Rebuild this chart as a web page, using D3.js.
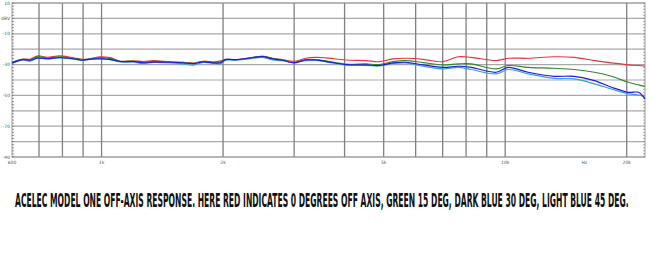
<!DOCTYPE html>
<html>
<head>
<meta charset="utf-8">
<script src="https://cdn.jsdelivr.net/npm/d3@7"></script>
<style>
  html, body { margin: 0; padding: 0; background: #fff; }
  svg { display: block; }
</style>
</head>
<body>
<svg id="chart" width="650" height="257"></svg>
<script>
// frequency points (Hz)
const freqs = [600, 639, 665, 696, 733, 790, 870, 895, 937, 992, 1050, 1112, 1198, 1269, 1344, 1481, 1595, 1689, 1788, 1894, 1972,
  2029, 2147, 2314, 2506, 2652, 2809, 2992, 3205, 3393, 3594, 4028, 4516, 4866, 5270, 5676, 6259,
  7015, 7645, 8234, 9497, 10170, 11400, 13230, 14830, 16630, 18330, 20200, 21390, 22200];

// dBV per angle
const red0 = [-28.6, -26.4, -26.5, -24.3, -25.2, -24.3, -26.0, -26.6, -26.2, -24.9, -25.5, -27.8, -27.5, -28.0, -27.4, -28.2, -28.5, -29.0, -27.8, -28.3, -27.6,
  -26.6, -26.7, -25.7, -24.6, -25.9, -26.8, -27.9, -25.9, -25.3, -25.6, -27.0, -27.4, -28.1, -26.3, -25.9, -26.6,
  -28.1, -24.9, -25.3, -27.4, -25.9, -25.9, -24.9, -25.3, -27.4, -28.9, -30.2, -30.6, -31.1];
const green15 = [-28.8, -26.6, -26.9, -24.8, -25.6, -24.9, -26.3, -26.8, -26.3, -25.5, -26.0, -27.9, -27.8, -28.4, -27.9, -28.4, -28.7, -29.2, -28.0, -28.6, -28.2,
  -26.7, -26.8, -25.8, -24.7, -26.1, -27.0, -28.6, -26.8, -26.8, -27.6, -29.7, -29.5, -30.0, -28.1, -27.4, -28.7,
  -30.2, -29.5, -29.5, -32.8, -30.6, -31.8, -32.4, -33.2, -35.0, -37.6, -41.5, -43.2, -44.1];
const darkBlue30 = [-29.0, -26.8, -27.2, -25.8, -26.2, -25.4, -26.6, -27.1, -26.4, -26.3, -26.6, -28.0, -28.0, -28.8, -28.4, -28.5, -28.9, -29.4, -28.2, -28.9, -28.8,
  -26.8, -26.8, -25.9, -24.8, -26.3, -27.2, -28.9, -27.0, -27.0, -27.9, -30.0, -30.2, -30.6, -28.9, -28.5, -30.2,
  -31.8, -31.1, -31.8, -35.0, -31.8, -35.0, -37.6, -37.6, -40.4, -44.7, -48.0, -48.0, -52.3];
const lightBlue45 = [-29.2, -27.0, -27.8, -25.4, -26.3, -25.6, -26.8, -27.3, -26.6, -26.0, -26.9, -28.3, -28.4, -29.3, -28.6, -28.9, -29.6, -30.3, -28.6, -29.2, -29.4,
  -27.2, -27.2, -26.3, -25.3, -27.0, -27.4, -28.7, -27.4, -27.3, -28.2, -30.2, -30.5, -30.9, -29.3, -28.9, -31.1,
  -32.8, -31.8, -33.2, -36.0, -33.2, -36.0, -38.9, -39.3, -42.5, -45.8, -49.0, -49.7, -51.2];

const vGrid = [700, 800, 900, 1000, 2000, 3000, 4000, 5000, 6000, 7000, 8000, 9000, 10000, 20000];
const xLabels = [[600, "600"], [1000, "1k"], [2000, "2k"], [5000, "5k"], [10000, "10k"], [15700, "Hz"], [20000, "20k"]];
const yLabels = [[10, "10"], [0, "dBV"], [-10, "-10"], [-30, "-30"], [-50, "-50"], [-70, "-70"], [-90, "-90"]];
const caption = "ACELEC MODEL ONE OFF-AXIS RESPONSE. HERE RED INDICATES 0 DEGREES OFF AXIS, GREEN 15 DEG, DARK BLUE 30 DEG, LIGHT BLUE 45 DEG.";

const series = [
  { values: red0, color: "#e8323c" },
  { values: green15, color: "#2f8a2f" },
  { values: lightBlue45, color: "#3a9ee0" },
  { values: darkBlue30, color: "#1c1cd8" }
];

const svg = d3.select("#chart");
const plotLeft = 12, plotRight = 645, plotTop = 3, plotBottom = 157;
const x = d3.scaleLog().domain([600, 22200]).range([plotLeft, plotRight]);
const y = d3.scaleLinear().domain([-90, 10]).range([plotBottom, plotTop]);

// horizontal grid
svg.append("g").selectAll("line")
  .data(d3.range(-90, 11, 10))
  .join("line")
  .attr("x1", plotLeft).attr("x2", plotRight)
  .attr("y1", (d) => y(d)).attr("y2", (d) => y(d))
  .attr("stroke", "#a8a8a8").attr("stroke-width", 1.2);

// vertical grid
svg.append("g").selectAll("line")
  .data(vGrid)
  .join("line")
  .attr("x1", (d) => x(d)).attr("x2", (d) => x(d))
  .attr("y1", plotTop).attr("y2", plotBottom)
  .attr("stroke", "#808080").attr("stroke-width", 1.3);

// frame
svg.append("rect")
  .attr("x", plotLeft).attr("y", plotTop)
  .attr("width", plotRight - plotLeft).attr("height", plotBottom - plotTop)
  .attr("fill", "none").attr("stroke", "#999").attr("stroke-width", 1);

// minor ticks on both side axes
const minor = d3.range(-90, 10.1, 2);
svg.append("g").selectAll("line")
  .data(minor)
  .join("line")
  .attr("x1", plotLeft).attr("x2", plotLeft + 2)
  .attr("y1", (d) => y(d)).attr("y2", (d) => y(d))
  .attr("stroke", "#777").attr("stroke-width", 0.8);
svg.append("g").selectAll("line")
  .data(minor)
  .join("line")
  .attr("x1", plotRight - 2).attr("x2", plotRight)
  .attr("y1", (d) => y(d)).attr("y2", (d) => y(d))
  .attr("stroke", "#999").attr("stroke-width", 0.8);

// curves
const line = d3.line()
  .x((d) => x(d[0]))
  .y((d) => y(d[1]))
  .curve(d3.curveCatmullRom.alpha(0.5));

svg.append("g").selectAll("path")
  .data(series)
  .join("path")
  .attr("d", (s) => line(freqs.map((f, i) => [f, s.values[i]])))
  .attr("fill", "none")
  .attr("stroke", (s) => s.color)
  .attr("stroke-width", 1.15);

// axis labels
svg.append("g").selectAll("text")
  .data(yLabels)
  .join("text")
  .attr("x", 10)
  .attr("y", (d) => y(d[0]) + 1.6)
  .attr("text-anchor", "end")
  .attr("fill", "#555")
  .style("font-family", "DejaVu Sans, sans-serif")
  .style("font-size", "4.5px")
  .text((d) => d[1]);

svg.append("g").selectAll("text")
  .data(xLabels)
  .join("text")
  .attr("x", (d) => x(d[0]))
  .attr("y", 164)
  .attr("text-anchor", "middle")
  .attr("fill", "#555")
  .style("font-family", "DejaVu Sans, sans-serif")
  .style("font-size", "4.5px")
  .text((d) => d[1]);

// caption: very condensed caps, squeezed horizontally to fit the width
const captionG = svg.append("g");
const captionText = captionG.append("text")
  .attr("x", 0)
  .attr("y", 0)
  .attr("fill", "#111")
  .style("font-family", "'Liberation Sans Narrow', 'DejaVu Sans Condensed', sans-serif")
  .style("font-weight", "bold")
  .style("font-size", "19px")
  .text(caption);
const naturalWidth = captionText.node().getComputedTextLength();
captionG.attr("transform", `translate(15,207) scale(${614 / naturalWidth},1)`);
</script>
</body>
</html>
